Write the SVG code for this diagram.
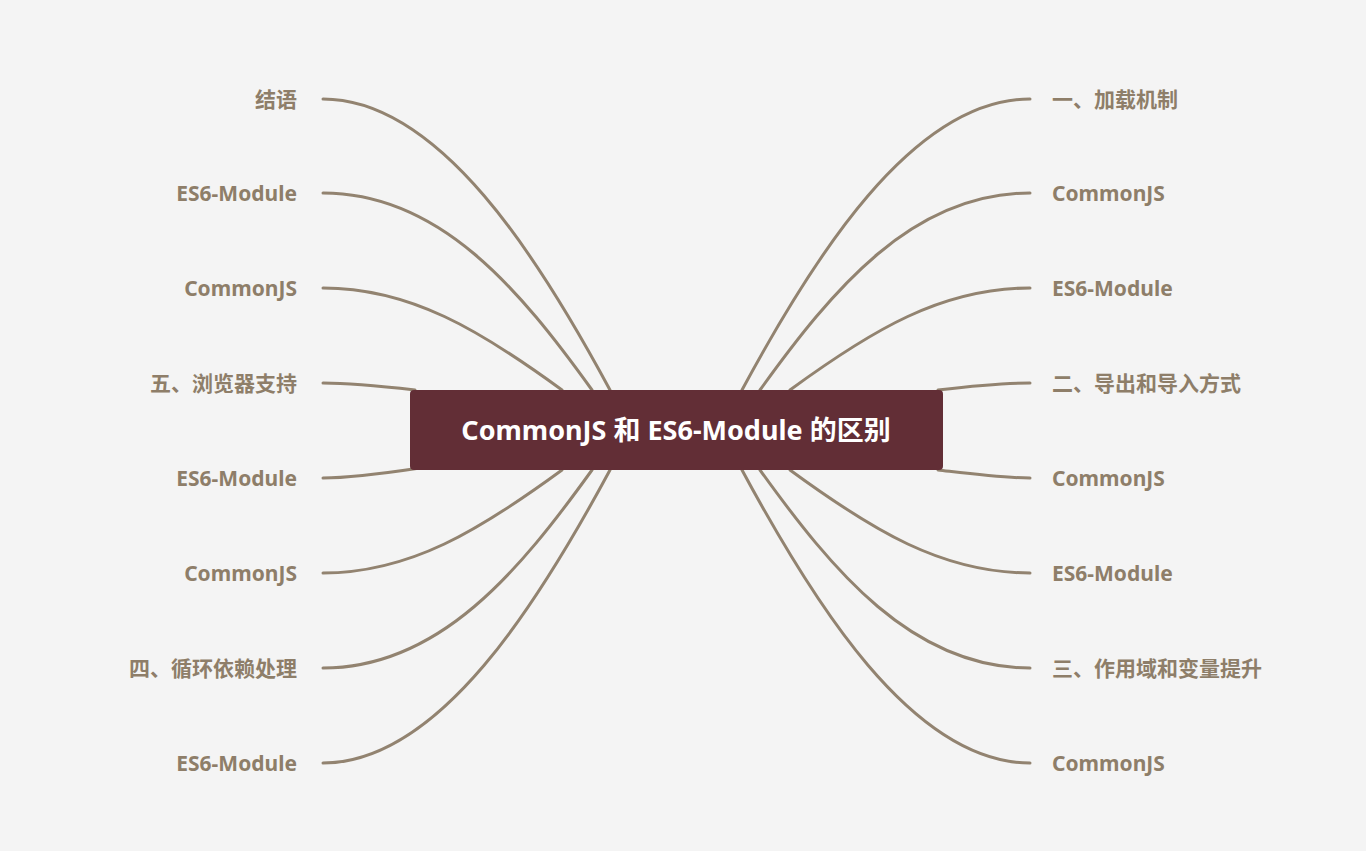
<svg xmlns="http://www.w3.org/2000/svg" width="1366" height="851" viewBox="0 0 1366 851">
<style>
.c{fill:none;stroke:#928370;stroke-width:3;stroke-linecap:round}
.l{font-family:"Noto Sans","Noto Sans CJK SC",sans-serif;font-weight:bold;font-size:21px;fill:#8e7e69}
.t{font-family:"Noto Sans","Noto Sans CJK SC",sans-serif;font-weight:bold;font-size:27px;fill:#ffffff}
</style>
<rect width="1366" height="851" fill="#f4f4f4"/>
<g id="connectors">
<path class="c" d="M610 390 C540 260 440 99 323 99"/>
<path class="c" d="M592 390 C520 290 440 193 323 193"/>
<path class="c" d="M562 390 C480 330 410 288 323 288"/>
<path class="c" d="M415 390 C380 386 350 383 323 383"/>
<path class="c" d="M420 468 C380 474 350 478 323 478"/>
<path class="c" d="M562 470 C480 530 410 573 323 573"/>
<path class="c" d="M592 470 C520 570 440 668 323 668"/>
<path class="c" d="M610 470 C540 600 440 763 323 763"/>
<path class="c" d="M742 390 C812 260 912 99 1030 99"/>
<path class="c" d="M760 390 C832 290 912 193 1030 193"/>
<path class="c" d="M790 390 C872 330 942 288 1030 288"/>
<path class="c" d="M938 390 C972 386 1002 383 1030 383"/>
<path class="c" d="M938 470 C972 474 1002 478 1030 478"/>
<path class="c" d="M790 470 C872 530 942 573 1030 573"/>
<path class="c" d="M760 470 C832 570 912 668 1030 668"/>
<path class="c" d="M742 470 C812 600 912 763 1030 763"/>
</g>
<g id="root"><rect x="410" y="390" width="533" height="80" rx="4" fill="#622e36"/><text class="t" x="676" y="440" text-anchor="middle">CommonJS 和 ES6-Module 的区别</text></g>
<g text-anchor="end">
<g id="l1"><text class="l" x="297" y="107">结语</text></g>
<g id="l2"><text class="l" x="297" y="201">ES6-Module</text></g>
<g id="l3"><text class="l" x="297" y="296">CommonJS</text></g>
<g id="l4"><text class="l" x="297" y="391">五、浏览器支持</text></g>
<g id="l5"><text class="l" x="297" y="486">ES6-Module</text></g>
<g id="l6"><text class="l" x="297" y="581">CommonJS</text></g>
<g id="l7"><text class="l" x="297" y="676">四、循环依赖处理</text></g>
<g id="l8"><text class="l" x="297" y="771">ES6-Module</text></g>
</g>
<g>
<g id="r1"><text class="l" x="1052" y="107">一、加载机制</text></g>
<g id="r2"><text class="l" x="1052" y="201">CommonJS</text></g>
<g id="r3"><text class="l" x="1052" y="296">ES6-Module</text></g>
<g id="r4"><text class="l" x="1052" y="391">二、导出和导入方式</text></g>
<g id="r5"><text class="l" x="1052" y="486">CommonJS</text></g>
<g id="r6"><text class="l" x="1052" y="581">ES6-Module</text></g>
<g id="r7"><text class="l" x="1052" y="676">三、作用域和变量提升</text></g>
<g id="r8"><text class="l" x="1052" y="771">CommonJS</text></g>
</g>
</svg>
